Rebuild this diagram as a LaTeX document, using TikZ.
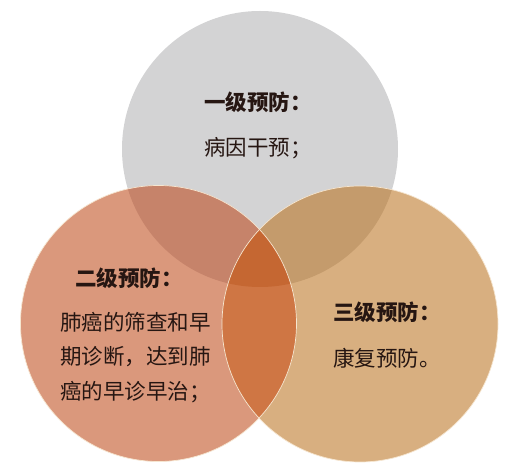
\documentclass[tikz,border=0pt]{standalone}
\usepackage{fontspec}
\newfontfamily\cjk{Noto Sans CJK SC}
\definecolor{greyc}{RGB}{211,211,212}
\definecolor{salmon}{RGB}{218,152,124}
\definecolor{tan}{RGB}{216,175,128}
\definecolor{greysalmon}{RGB}{198,131,106}
\definecolor{greytan}{RGB}{196,155,108}
\definecolor{salmontan}{RGB}{207,118,68}
\definecolor{core}{RGB}{197,103,50}
\definecolor{rim}{RGB}{246,230,208}
\definecolor{ink}{RGB}{38,22,18}
\tikzset{
    every node/.style={
        inner sep=0pt,
        text=ink,
        font=\cjk\fontsize{21.5}{34.5}\selectfont},
    head/.style={
        anchor=west,
        font=\cjk\bfseries\fontsize{21.5}{34.5}\selectfont},
    body/.style={
        anchor=west,
        align=left},
    ring/.style={
        draw=rim,
        line width=0.7pt}}

\begin{document}
\begin{tikzpicture}[x=1pt,y=-1pt]
    \useasboundingbox[fill=white] (0,0) rectangle (512,470);
    \coordinate (top) at (260,149);
    \coordinate (left) at (158.5,323.5);
    \coordinate (right) at (360,324);
    \def\rad{138}
    % the three discs
    \fill[greyc] (top) circle[radius=\rad];
    \fill[salmon] (left) circle[radius=\rad];
    \fill[tan] (right) circle[radius=\rad];
    % overlaps
    \begin{scope}
        \clip (top) circle[radius=\rad];
        \fill[greysalmon] (left) circle[radius=\rad];
        \fill[greytan] (right) circle[radius=\rad];
    \end{scope}
    \begin{scope}
        \clip (left) circle[radius=\rad];
        \fill[salmontan] (right) circle[radius=\rad];
        \clip (right) circle[radius=\rad];
        \fill[core] (top) circle[radius=\rad];
    \end{scope}
    \draw[ring] (left) circle[radius=\rad];
    \draw[ring] (right) circle[radius=\rad];
    % labels
    \node[head] (h1) at (204,102) {一级预防：};
    \node[body] (b1) at (204,148) {病因干预；};
    \node[head] (h2) at (75,278) {二级预防：};
    \node[body] (b2) at (60,357.5) {肺癌的筛查和早\\期诊断，达到肺\\癌的早诊早治；};
    \node[head] (h3) at (333,312) {三级预防：};
    \node[body] (b3) at (333,358) {康复预防。};
\end{tikzpicture}
\end{document}
